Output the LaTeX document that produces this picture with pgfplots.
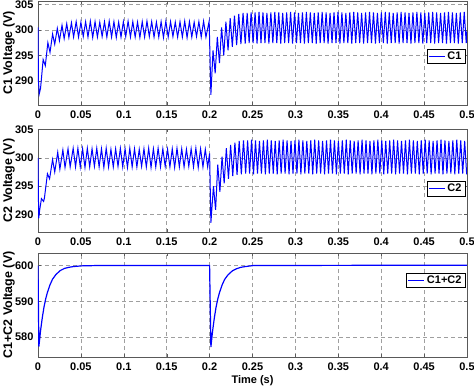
\documentclass[border=0pt]{standalone}
\usepackage{fontspec}
\setmainfont{Liberation Sans}
\usepackage{pgfplots}
\pgfplotsset{compat=1.18}
\usepackage{pgfplotstable}

\pgfplotstableread{
t v
0 300.5
0.0005 290.0
0.0015 287.5
0.003 288.6
0.006 294.2
0.0085 293.0
0.0115 297.5
0.014 295.6
0.017 299.2
0.0195 297.2
0.0225 300.3
0.025 297.9
0.028 300.9
0.0305 298.3
0.0335 301.2
0.036 298.5
0.039 301.4
0.0415 298.6
0.0445 301.6
0.04725 298.6
0.0500 301.5
0.05275 298.7
0.0555 301.6
0.05825 298.6
0.0610 301.7
0.06375 298.5
0.0665 301.6
0.06925 298.6
0.0720 301.5
0.07475 298.7
0.0775 301.6
0.08025 298.6
0.0830 301.7
0.08575 298.6
0.0885 301.6
0.09125 298.5
0.0940 301.5
0.09675 298.6
0.0995 301.6
0.10225 298.7
0.1050 301.7
0.10775 298.6
0.1105 301.6
0.11325 298.6
0.1160 301.5
0.11875 298.5
0.1215 301.6
0.12425 298.6
0.1270 301.7
0.12975 298.7
0.1325 301.6
0.13525 298.6
0.1380 301.5
0.14075 298.6
0.1435 301.6
0.14625 298.5
0.1490 301.7
0.15175 298.6
0.1545 301.6
0.15725 298.7
0.1600 301.5
0.16275 298.6
0.1655 301.6
0.16825 298.6
0.1710 301.7
0.17375 298.5
0.1765 301.6
0.17925 298.6
0.1820 301.5
0.18475 298.7
0.1875 301.6
0.19025 298.6
0.1930 301.7
0.19575 298.6
0.1995 301.7
0.2015 287.3
0.2040 296.0
0.2065 291.5
0.2090 298.6
0.2115 293.5
0.2140 300.5
0.2165 295.0
0.2190 301.6
0.2215 296.0
0.2240 302.3
0.2265 296.7
0.2290 302.8
0.2315 297.0
0.2340 303.1
0.2365 297.2
0.2390 303.3
0.2415 297.3
0.2438 303.3
0.2461 297.4
0.2484 303.4
0.2507 297.4
0.2530 303.4
0.2553 297.3
0.2576 303.5
0.2599 297.4
0.2622 303.4
0.2645 297.4
0.2668 303.3
0.2691 297.3
0.2714 303.4
0.2737 297.4
0.2760 303.5
0.2783 297.4
0.2806 303.4
0.2829 297.3
0.2852 303.3
0.2875 297.4
0.2898 303.4
0.2921 297.4
0.2944 303.5
0.2967 297.3
0.2990 303.4
0.3013 297.4
0.3036 303.3
0.3059 297.4
0.3082 303.4
0.3105 297.3
0.3128 303.5
0.3151 297.4
0.3174 303.4
0.3197 297.4
0.3220 303.3
0.3243 297.3
0.3266 303.4
0.3289 297.4
0.3312 303.5
0.3335 297.4
0.3358 303.4
0.3381 297.3
0.3404 303.3
0.3427 297.4
0.3450 303.4
0.3473 297.4
0.3496 303.5
0.3519 297.3
0.3542 303.4
0.3565 297.4
0.3588 303.3
0.3611 297.4
0.3634 303.4
0.3657 297.3
0.3680 303.5
0.3703 297.4
0.3726 303.4
0.3749 297.4
0.3772 303.3
0.3795 297.3
0.3818 303.4
0.3841 297.4
0.3864 303.5
0.3887 297.4
0.3910 303.4
0.3933 297.3
0.3956 303.3
0.3979 297.4
0.4002 303.4
0.4025 297.4
0.4048 303.5
0.4071 297.3
0.4094 303.4
0.4117 297.4
0.4140 303.3
0.4163 297.4
0.4186 303.4
0.4209 297.3
0.4232 303.5
0.4255 297.4
0.4278 303.4
0.4301 297.4
0.4324 303.3
0.4347 297.3
0.4370 303.4
0.4393 297.4
0.4416 303.5
0.4439 297.4
0.4462 303.4
0.4485 297.3
0.4508 303.3
0.4531 297.4
0.4554 303.4
0.4577 297.4
0.4600 303.5
0.4623 297.3
0.4646 303.4
0.4669 297.4
0.4692 303.3
0.4715 297.4
0.4738 303.4
0.4761 297.3
0.4784 303.5
0.4807 297.4
0.4830 303.4
0.4853 297.4
0.4876 303.3
0.4899 297.3
0.4922 303.4
0.4945 297.4
0.4968 303.5
0.4991 297.4
0.5000 299.7
}\dataA

\pgfplotstableread{
t v
0 300.0
0.0008 289.3
0.002 290.8
0.004 292.8
0.0065 292.3
0.0075 292.9
0.011 297.2
0.0135 296.3
0.017 299.7
0.0195 297.5
0.023 301.0
0.0255 298.0
0.029 301.4
0.0315 298.3
0.035 301.6
0.0375 298.4
0.041 301.7
0.04375 298.4
0.0465 301.7
0.04925 298.4
0.0520 301.6
0.05475 298.3
0.0575 301.7
0.06025 298.4
0.0630 301.6
0.06575 298.5
0.0685 301.7
0.07125 298.4
0.0740 301.6
0.07675 298.3
0.0795 301.7
0.08225 298.4
0.0850 301.5
0.08775 298.4
0.0905 301.6
0.09325 298.5
0.0960 301.7
0.09875 298.4
0.1015 301.6
0.10425 298.3
0.1070 301.7
0.10975 298.4
0.1125 301.6
0.11525 298.4
0.1180 301.5
0.12075 298.5
0.1235 301.6
0.12625 298.4
0.1290 301.7
0.13175 298.3
0.1345 301.6
0.13725 298.4
0.1400 301.7
0.14275 298.4
0.1455 301.6
0.14825 298.5
0.1510 301.5
0.15375 298.4
0.1565 301.6
0.15925 298.3
0.1620 301.7
0.16475 298.4
0.1675 301.6
0.17025 298.4
0.1730 301.5
0.17575 298.5
0.1785 301.6
0.18125 298.4
0.1840 301.7
0.18675 298.3
0.1895 301.6
0.19225 298.4
0.1950 301.5
0.19775 298.4
0.2000 300.8
0.2015 288.5
0.2045 295.0
0.2070 290.8
0.2095 298.8
0.2120 294.0
0.2145 300.2
0.2170 295.5
0.2195 301.7
0.2220 296.3
0.2245 302.3
0.2270 296.8
0.2295 302.7
0.2320 297.0
0.2345 303.0
0.2370 297.1
0.2395 303.1
0.2420 297.2
0.2443 303.1
0.2466 297.2
0.2489 303.2
0.2512 297.1
0.2535 303.1
0.2558 297.2
0.2581 303.0
0.2604 297.2
0.2627 303.1
0.2650 297.1
0.2673 303.2
0.2696 297.2
0.2719 303.1
0.2742 297.2
0.2765 303.0
0.2788 297.1
0.2811 303.1
0.2834 297.2
0.2857 303.2
0.2880 297.2
0.2903 303.1
0.2926 297.1
0.2949 303.0
0.2972 297.2
0.2995 303.1
0.3018 297.2
0.3041 303.2
0.3064 297.1
0.3087 303.1
0.3110 297.2
0.3133 303.0
0.3156 297.2
0.3179 303.1
0.3202 297.1
0.3225 303.2
0.3248 297.2
0.3271 303.1
0.3294 297.2
0.3317 303.0
0.3340 297.1
0.3363 303.1
0.3386 297.2
0.3409 303.2
0.3432 297.2
0.3455 303.1
0.3478 297.1
0.3501 303.0
0.3524 297.2
0.3547 303.1
0.3570 297.2
0.3593 303.2
0.3616 297.1
0.3639 303.1
0.3662 297.2
0.3685 303.0
0.3708 297.2
0.3731 303.1
0.3754 297.1
0.3777 303.2
0.3800 297.2
0.3823 303.1
0.3846 297.2
0.3869 303.0
0.3892 297.1
0.3915 303.1
0.3938 297.2
0.3961 303.2
0.3984 297.2
0.4007 303.1
0.4030 297.1
0.4053 303.0
0.4076 297.2
0.4099 303.1
0.4122 297.2
0.4145 303.2
0.4168 297.1
0.4191 303.1
0.4214 297.2
0.4237 303.0
0.4260 297.2
0.4283 303.1
0.4306 297.1
0.4329 303.2
0.4352 297.2
0.4375 303.1
0.4398 297.2
0.4421 303.0
0.4444 297.1
0.4467 303.1
0.4490 297.2
0.4513 303.2
0.4536 297.2
0.4559 303.1
0.4582 297.1
0.4605 303.0
0.4628 297.2
0.4651 303.1
0.4674 297.2
0.4697 303.2
0.4720 297.1
0.4743 303.1
0.4766 297.2
0.4789 303.0
0.4812 297.2
0.4835 303.1
0.4858 297.1
0.4881 303.2
0.4904 297.2
0.4927 303.1
0.4950 297.2
0.4973 303.0
0.4996 297.1
0.5000 297.8
}\dataB

\pgfplotstableread{
t v
0 600.0
0.0010 577.3
0.0030 581.8
0.0050 585.4
0.0070 588.4
0.0090 590.7
0.0110 592.5
0.0140 594.6
0.0170 596.2
0.0210 597.5
0.0260 598.6
0.0310 599.2
0.0360 599.5
0.0410 599.7
0.0510 599.9
0.0700 600.0
0.2000 600.0
0.2015 577.2
0.2035 581.7
0.2055 585.3
0.2075 588.3
0.2095 590.6
0.2115 592.4
0.2145 594.5
0.2175 596.1
0.2215 597.4
0.2265 598.5
0.2315 599.1
0.2365 599.5
0.2415 599.7
0.2515 600.0
0.5000 600.1
}\dataC

\pgfplotsset{
  panel/.style={
    width=429pt, height=104pt, scale only axis,
    xmin=0, xmax=0.5,
    no markers,
    xtick={0,0.05,0.1,0.15,0.2,0.25,0.3,0.35,0.4,0.45,0.5},
    xticklabels={0,0.05,0.1,0.15,0.2,0.25,0.3,0.35,0.4,0.45,0.5},
    grid=major,
    major grid style={gray!75, line width=0.5pt, dash pattern=on 4pt off 3pt},
    axis line style={black!65, line width=0.6pt},
    tick style={black!65},
    tick align=inside, major tick length=3pt,
    /pgf/number format/assume math mode=true,
    ticklabel style={font=\bfseries\fontsize{11}{12}\selectfont},
    xticklabel style={yshift=-2pt},
    yticklabel style={xshift=-1pt},
    ylabel style={at={(axis description cs:-0.0676,0.5)}, anchor=center, rotate=0,
      font=\bfseries\fontsize{12.5}{13}\selectfont},
    legend style={draw=black, line width=0.5pt, fill=white, inner xsep=1.5pt, inner ysep=0.5pt,
      font=\bfseries\fontsize{11}{12}\selectfont, anchor=east, cells={anchor=west}},
    legend image code/.code={\draw[#1] (0pt,0pt) -- (16pt,0pt);},
    every axis plot/.append style={color=blue, line width=1pt},
  }
}

\begin{document}
\begin{tikzpicture}
\begin{axis}[panel, at={(0pt,0pt)}, anchor=north west,
  ymin=285.3, ymax=305.65, ytick={290,295,300,305},
  ylabel={C1 Voltage (V)},
  legend style={at={(rel axis cs:0.996,0.47)}}]
\addplot table[x=t,y=v] {\dataA};
\addlegendentry{C1}
\end{axis}

\begin{axis}[panel, height=103pt, at={(0pt,-128pt)}, anchor=north west,
  ymin=286.9, ymax=305.1, ytick={290,295,300,305},
  ylabel={C2 Voltage (V)},
  legend style={at={(rel axis cs:0.996,0.42)}}]
\addplot table[x=t,y=v] {\dataB};
\addlegendentry{C2}
\end{axis}

\begin{axis}[panel, at={(0pt,-252pt)}, anchor=north west,
  ymin=574.4, ymax=603.5, ytick={580,590,600},
  ylabel={C1+C2 Voltage (V)},
  xlabel={Time (s)},
  xlabel style={at={(axis description cs:0.5,0)}, anchor=north, yshift=-15pt,
    font=\bfseries\fontsize{11}{12}\selectfont},
  legend style={at={(rel axis cs:0.996,0.735)}}]
\addplot[line width=1.2pt] table[x=t,y=v] {\dataC};
\addlegendentry{C1+C2}
\end{axis}
\pgfresetboundingbox
\path[use as bounding box] (-38pt,1pt) rectangle (436pt,-385pt);
\end{tikzpicture}
\end{document}
